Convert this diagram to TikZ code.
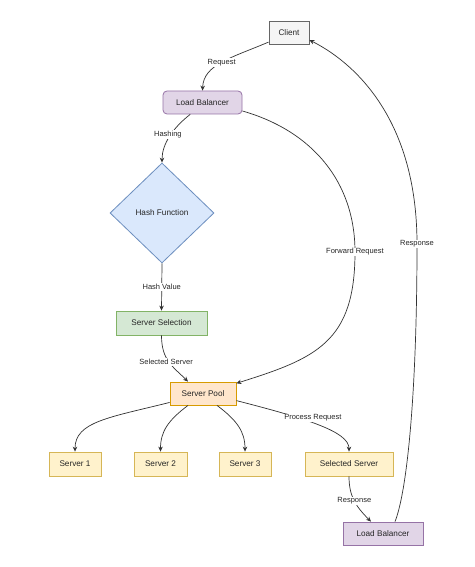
\documentclass[tikz,border=0pt]{standalone}
\usepackage{fontspec}
\setmainfont{Liberation Sans}
\usetikzlibrary{arrows.meta,shapes.geometric}
\definecolor{cliF}{HTML}{F5F5F5}\definecolor{cliD}{HTML}{666666}
\definecolor{lbF}{HTML}{E1D5E7}\definecolor{lbD}{HTML}{9673A6}
\definecolor{hfF}{HTML}{DAE8FC}\definecolor{hfD}{HTML}{6C8EBF}
\definecolor{ssF}{HTML}{D5E8D4}\definecolor{ssD}{HTML}{82B366}
\definecolor{spF}{HTML}{FFE6CC}\definecolor{spD}{HTML}{D79B00}
\definecolor{svF}{HTML}{FFF2CC}\definecolor{svD}{HTML}{D6B656}
\definecolor{edge}{HTML}{333333}
\begin{document}
\begin{tikzpicture}[x=1pt,y=-1pt,
  box/.style={draw, line width=0.8pt, inner sep=0pt, text=black!85,
    font=\fontsize{8.2}{10}\selectfont, minimum height=23pt},
  lbl/.style={fill=white, inner sep=1pt, text=black!85,
    font=\fontsize{7.5}{9}\selectfont},
  conn/.style={draw=edge, line width=0.7pt, -{Stealth[length=5pt,width=4.5pt]}},
  server/.style={box, fill=svF, draw=svD, minimum height=24pt}]
\useasboundingbox (0,0) rectangle (474,567);
\fill[white] (0,0) rectangle (474,567);

\node[box, fill=cliF, draw=cliD, minimum width=40pt] (client) at (289,33) {Client};
\node[box, fill=lbF, draw=lbD, minimum width=79pt, rounded corners=4pt] (lb) at (202.5,102.5) {Load Balancer};
\node[box, diamond, fill=hfF, draw=hfD, minimum width=104pt, minimum height=100pt] (hash) at (162,213) {Hash Function};
\node[box, fill=ssF, draw=ssD, minimum width=91pt, minimum height=24pt] (sel) at (161.5,323) {Server Selection};
\node[box, fill=spF, draw=spD, minimum width=66pt] (pool) at (203,393.5) {Server Pool};
\node[server, minimum width=52pt] (s1) at (75,464) {Server 1};
\node[server, minimum width=53pt] (s2) at (160.5,464) {Server 2};
\node[server, minimum width=52pt] (s3) at (245,464) {Server 3};
\node[server, minimum width=88pt] (sels) at (349,464) {Selected Server};
\node[box, fill=lbF, draw=lbD, minimum width=80pt] (lb2) at (383,533.5) {Load Balancer};

\coordinate (fwd) at (355,252);
\coordinate (resp) at (417,244);

\draw[conn] (client.204) .. controls +(-38,16) and +(1,-26) .. node[lbl] {Request} (lb.north);
\draw[conn] (lb.224) .. controls +(-18,14) and +(0,-18) .. node[lbl, pos=0.45, xshift=-3pt] {Hashing} (hash.north);
\draw[conn] (hash.south) -- node[lbl] {Hash Value} (sel.north);
\draw[conn] (sel.south) .. controls +(0,25) and +(-15,-15) .. node[lbl, pos=0.5, xshift=-3pt] {Selected Server} ([xshift=-15pt]pool.north);
\draw[conn] (lb.-12) .. controls +(70,20) and +(0,-70) .. (fwd)
  node[lbl] {Forward Request}
  .. controls +(0,90) and +(80,-25) .. (pool.17);
\draw[conn] (pool.195) .. controls +(-60,15) and +(0,-30) .. (s1.north);
\draw[conn] ([xshift=-15pt]pool.south) .. controls +(-20,15) and +(0,-20) .. (s2.north);
\draw[conn] ([xshift=14pt]pool.south) .. controls +(20,15) and +(0,-20) .. (s3.north);
\draw[conn] (pool.-12) .. controls +(70,18) and +(0,-20) .. node[lbl, pos=0.45, yshift=5pt] {Process Request} (sels.north);
\draw[conn] (sels.south) .. controls +(0,20) and +(-15,-15) .. node[lbl] {Response} ([xshift=-12pt]lb2.north);
\draw[conn] ([xshift=12pt]lb2.north) .. controls +(12,-30) and +(0,150) .. (resp)
  node[lbl] {Response}
  .. controls +(0,-130) and +(40,20) .. (client.341);
\end{tikzpicture}
\end{document}
